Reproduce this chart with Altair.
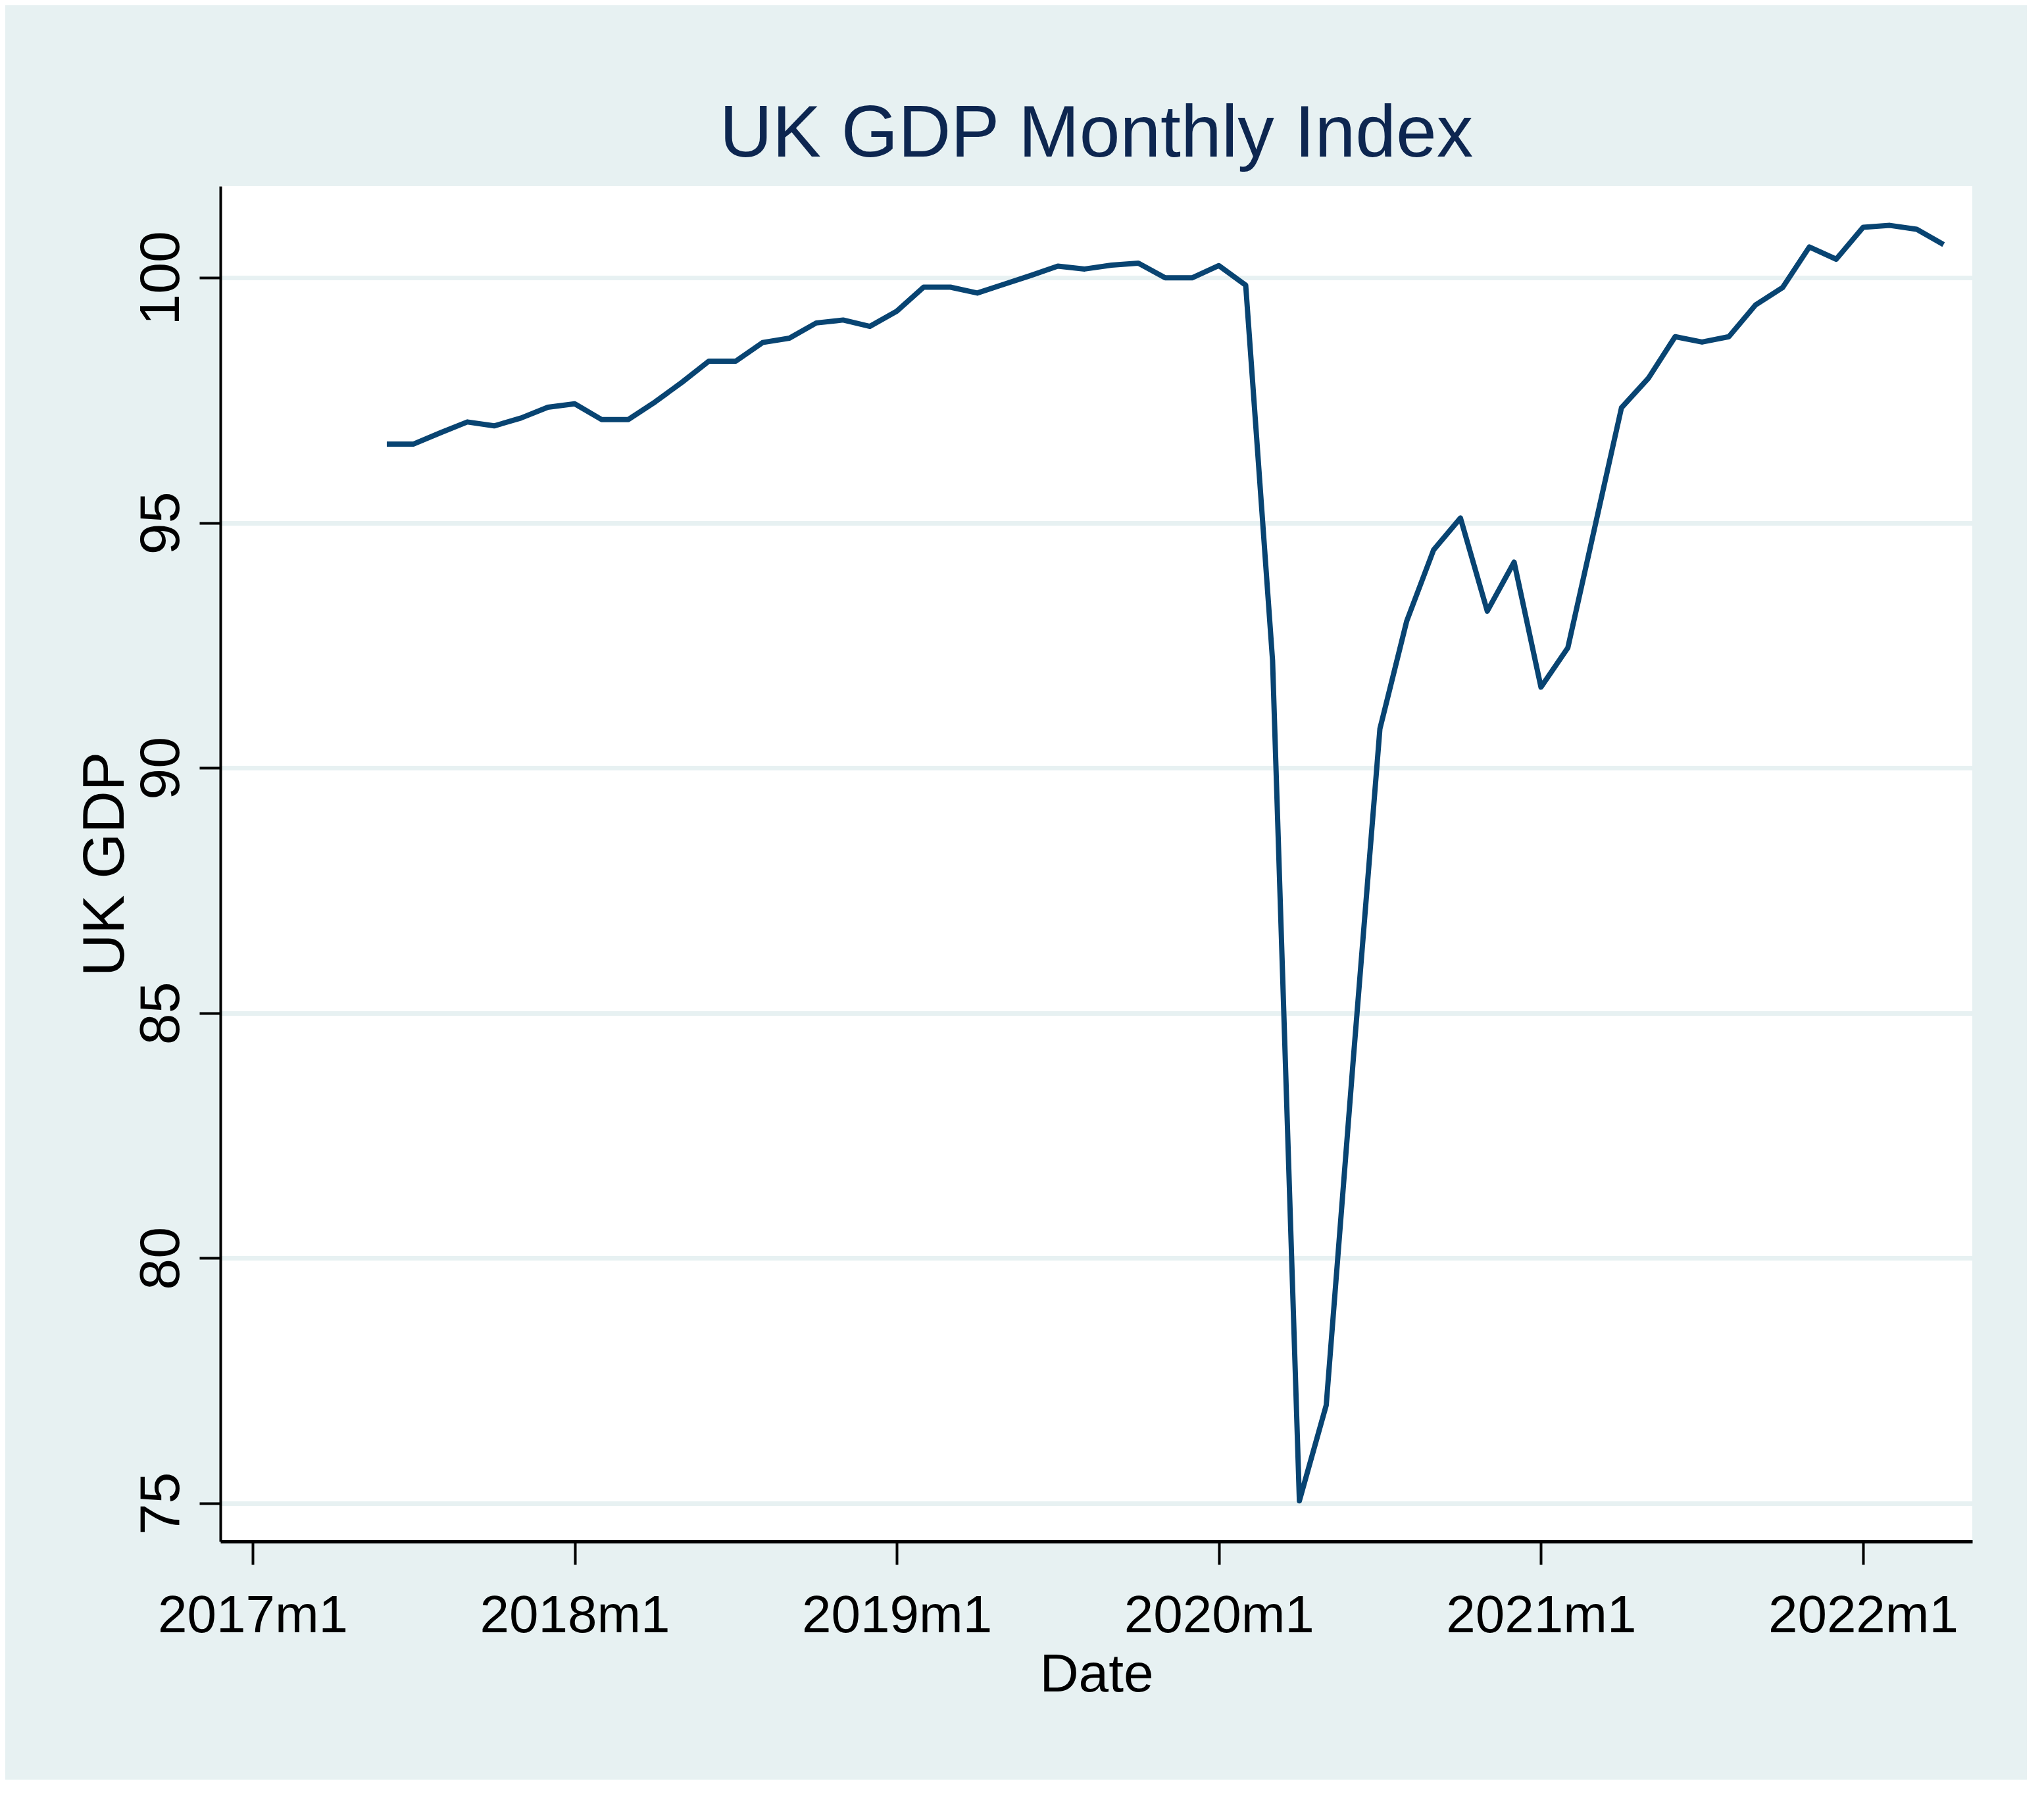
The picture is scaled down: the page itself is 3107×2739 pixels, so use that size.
import altair as alt
import pandas as pd

# ---- data ----
dates = [
    "2017m6", "2017m7", "2017m8", "2017m9", "2017m10", "2017m11", "2017m12",
    "2018m1", "2018m2", "2018m3", "2018m4", "2018m5", "2018m6", "2018m7",
    "2018m8", "2018m9", "2018m10", "2018m11", "2018m12",
    "2019m1", "2019m2", "2019m3", "2019m4", "2019m5", "2019m6", "2019m7",
    "2019m8", "2019m9", "2019m10", "2019m11", "2019m12",
    "2020m1", "2020m2", "2020m3", "2020m4", "2020m5", "2020m6", "2020m7",
    "2020m8", "2020m9", "2020m10", "2020m11", "2020m12",
    "2021m1", "2021m2", "2021m3", "2021m4", "2021m5", "2021m6", "2021m7",
    "2021m8", "2021m9", "2021m10", "2021m11", "2021m12",
    "2022m1", "2022m2", "2022m3", "2022m4",
]
gdp = [
    96.61, 96.61, 96.84, 97.06, 96.98, 97.14, 97.36,
    97.43, 97.11, 97.11, 97.47, 97.87, 98.30, 98.30,
    98.68, 98.77, 99.08, 99.14, 99.01,
    99.32, 99.81, 99.81, 99.69, 99.87, 100.05, 100.24,
    100.18, 100.26, 100.30, 100.00, 100.00,
    100.25, 99.85, 92.2, 75.05, 77.0, 84.0, 90.8,
    93.0, 94.45, 95.1, 93.2, 94.2,
    91.65, 92.45, 94.9, 97.35, 97.95, 98.8, 98.69,
    98.8, 99.45, 99.8, 100.63, 100.38,
    101.03, 101.07, 100.99, 100.68,
]
x_tick_values = [0, 12, 24, 36, 48, 60]      # 2017m1 ... 2022m1 (months since 2017m1)
y_tick_values = [75, 80, 85, 90, 95, 100]


def month_index(s):
    y, m = s.split("m")
    return (int(y) - 2017) * 12 + int(m) - 1


df = pd.DataFrame({
    "date": dates,
    "idx": [month_index(d) for d in dates],
    "gdp": gdp,
})

BG = "#e7f1f2"
LINE = "#084472"
SANS = "Liberation Sans, Arial, DejaVu Sans"

W, H = 2663, 2060

chart = (
    alt.Chart(df)
    .mark_line(color=LINE, strokeWidth=8, strokeJoin="round", strokeCap="butt")
    .encode(
        x=alt.X(
            "idx:Q",
            scale=alt.Scale(domain=[-1.2, 64.07], nice=False, zero=False),
            axis=alt.Axis(
                values=x_tick_values,
                labelExpr="(floor(datum.value / 12) + 2017) + 'm' + (datum.value % 12 + 1)",
                title="Date",
                grid=False,
                domainColor="black",
                domainWidth=5,
                tickColor="black",
                tickWidth=4,
                tickSize=35,
                labelFont=SANS,
                labelFontSize=80,
                labelColor="black",
                labelPadding=102,
                labelAlign="center",
                labelBaseline="alphabetic",
                labelFlush=False,
                labelLimit=0,
                labelOverlap=False,
                titleFont=SANS,
                titleFontSize=82,
                titleFontWeight="normal",
                titleColor="black",
                titleBaseline="alphabetic",
                titleX=W / 2,
                titleY=227,
                titleAlign="center",
            ),
        ),
        y=alt.Y(
            "gdp:Q",
            scale=alt.Scale(domain=[74.22, 101.87], nice=False, zero=False),
            axis=alt.Axis(
                values=y_tick_values,
                title="UK GDP",
                grid=True,
                gridColor=BG,
                gridWidth=7,
                domainColor="black",
                domainWidth=4,
                tickColor="black",
                tickWidth=4,
                tickSize=32,
                labelFont=SANS,
                labelFontSize=86,
                labelColor="black",
                labelAngle=-90,
                labelAlign="center",
                labelBaseline="alphabetic",
                labelPadding=32,
                labelFlush=False,
                labelLimit=0,
                titleFont=SANS,
                titleFontSize=89,
                titleFontWeight="normal",
                titleColor="black",
                titleAngle=-90,
                titleBaseline="alphabetic",
                titleAlign="center",
                titleX=-148,
                titleY=H / 2,
            ),
        ),
    )
    .properties(
        width=W,
        height=H,
        title=alt.TitleParams(
            "UK GDP Monthly Index",
            font=SANS,
            fontSize=111,
            fontWeight="normal",
            color="#0d2650",
            anchor="middle",
            frame="group",
            baseline="alphabetic",
            offset=44,
            dy=110,
        ),
        background=BG,
        padding={"left": 327, "top": 275, "right": 83, "bottom": 362},
        autosize=alt.AutoSizeParams(type="none"),
    )
    .configure_view(fill="white", stroke=None)
)

chart.save("out.html", embed_options={"renderer": "svg", "actions": False})
